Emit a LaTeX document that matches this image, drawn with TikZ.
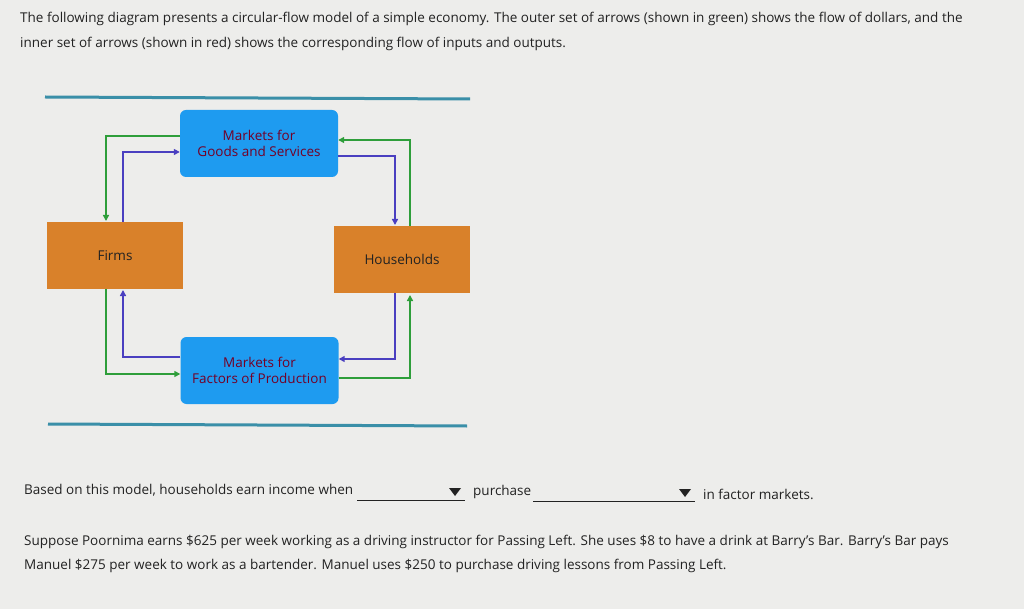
\documentclass[tikz,border=0pt]{standalone}
\usepackage{fontspec}
\setmainfont{Open Sans}
\usetikzlibrary{arrows.meta}
\definecolor{bg}{HTML}{EDEDEB}
\definecolor{blu}{HTML}{1E9BF0}
\definecolor{org}{HTML}{D9812A}
\definecolor{grn}{HTML}{2E9E3A}
\definecolor{pur}{HTML}{4A3FC0}
\definecolor{teal}{HTML}{3A8FA8}
\definecolor{txt}{HTML}{222222}
\begin{document}
\begin{tikzpicture}[x=1pt,y=-1pt,
  mkt/.style={fill=blu,rounded corners=6pt,minimum width=158pt,minimum height=67pt,align=center,font=\fontsize{13.5}{15.5}\selectfont,text=purple!60!black,inner sep=0},
  agent/.style={fill=org,minimum width=136pt,minimum height=67pt,font=\fontsize{13.5}{15}\selectfont,text=txt,inner sep=0},
  gr/.style={draw=grn,line width=2pt,-{Triangle[length=6pt,width=6pt]}},
  bl/.style={draw=pur,line width=2pt,-{Triangle[length=6pt,width=6pt]}},
  body/.style={anchor=west,font=\fontsize{13.5}{15}\selectfont,text=txt,inner sep=0}]
\fill[bg] (0,0) rectangle (1024,609);
\useasboundingbox (0,0) rectangle (1024,609);
\node[body] (t1) at (20,19) {The following diagram presents a circular-flow model of a simple economy. The outer set of arrows (shown in green) shows the flow of dollars, and the};
\node[body] (t2) at (20,44) {inner set of arrows (shown in red) shows the corresponding flow of inputs and outputs.};
\coordinate (l1a) at (45,97); \coordinate (l1b) at (470,99);
\coordinate (l2a) at (48,424); \coordinate (l2b) at (467,426);
\draw[teal,line width=3pt] (l1a) -- (l1b);
\draw[teal,line width=3pt] (l2a) -- (l2b);
\node[mkt] (g) at (259,143.5) {Markets for\\Goods and Services};
\node[mkt] (f) at (259.5,370.5) {Markets for\\Factors of Production};
\node[agent] (fi) at (115,255.5) {Firms};
\node[agent] (h) at (402,259.5) {Households};
% top-left
\draw[gr] (g.west|-0,136) -| (106,221);
\draw[bl] (123,222) |- (g.west|-0,152);
% top-right
\draw[bl] (g.east|-0,156) -| (395,225);
\draw[gr] (410,226) |- (g.east|-0,140);
% bottom-right
\draw[bl] (395,293) |- (f.east|-0,359);
\draw[gr] (f.east|-0,378) -| (410,295);
% bottom-left
\draw[bl] (f.west|-0,357) -| (123,290);
\draw[gr] (106,289) |- (f.west|-0,374);
\node[body] (q1) at (24,490) {Based on this model, households earn income when};
\coordinate (d1a) at (357,500); \coordinate (d1b) at (465,500);
\draw[txt,line width=0.8pt] (d1a) -- (d1b);
\fill[txt] (449,488) -- (461,488) -- (455,496) -- cycle;
\node[body] (q2) at (473,492) {purchase};
\coordinate (d2a) at (533,501); \coordinate (d2b) at (695,501);
\draw[txt,line width=0.8pt] (d2a) -- (d2b);
\fill[txt] (679,489) -- (691,489) -- (685,497) -- cycle;
\node[body] (q3) at (703,494) {in factor markets.};
\node[body] (p1) at (24,542) {Suppose Poornima earns \$625 per week working as a driving instructor for Passing Left. She uses \$8 to have a drink at Barry’s Bar. Barry’s Bar pays};
\node[body] (p2) at (24,566) {Manuel \$275 per week to work as a bartender. Manuel uses \$250 to purchase driving lessons from Passing Left.};
\end{tikzpicture}
\end{document}
